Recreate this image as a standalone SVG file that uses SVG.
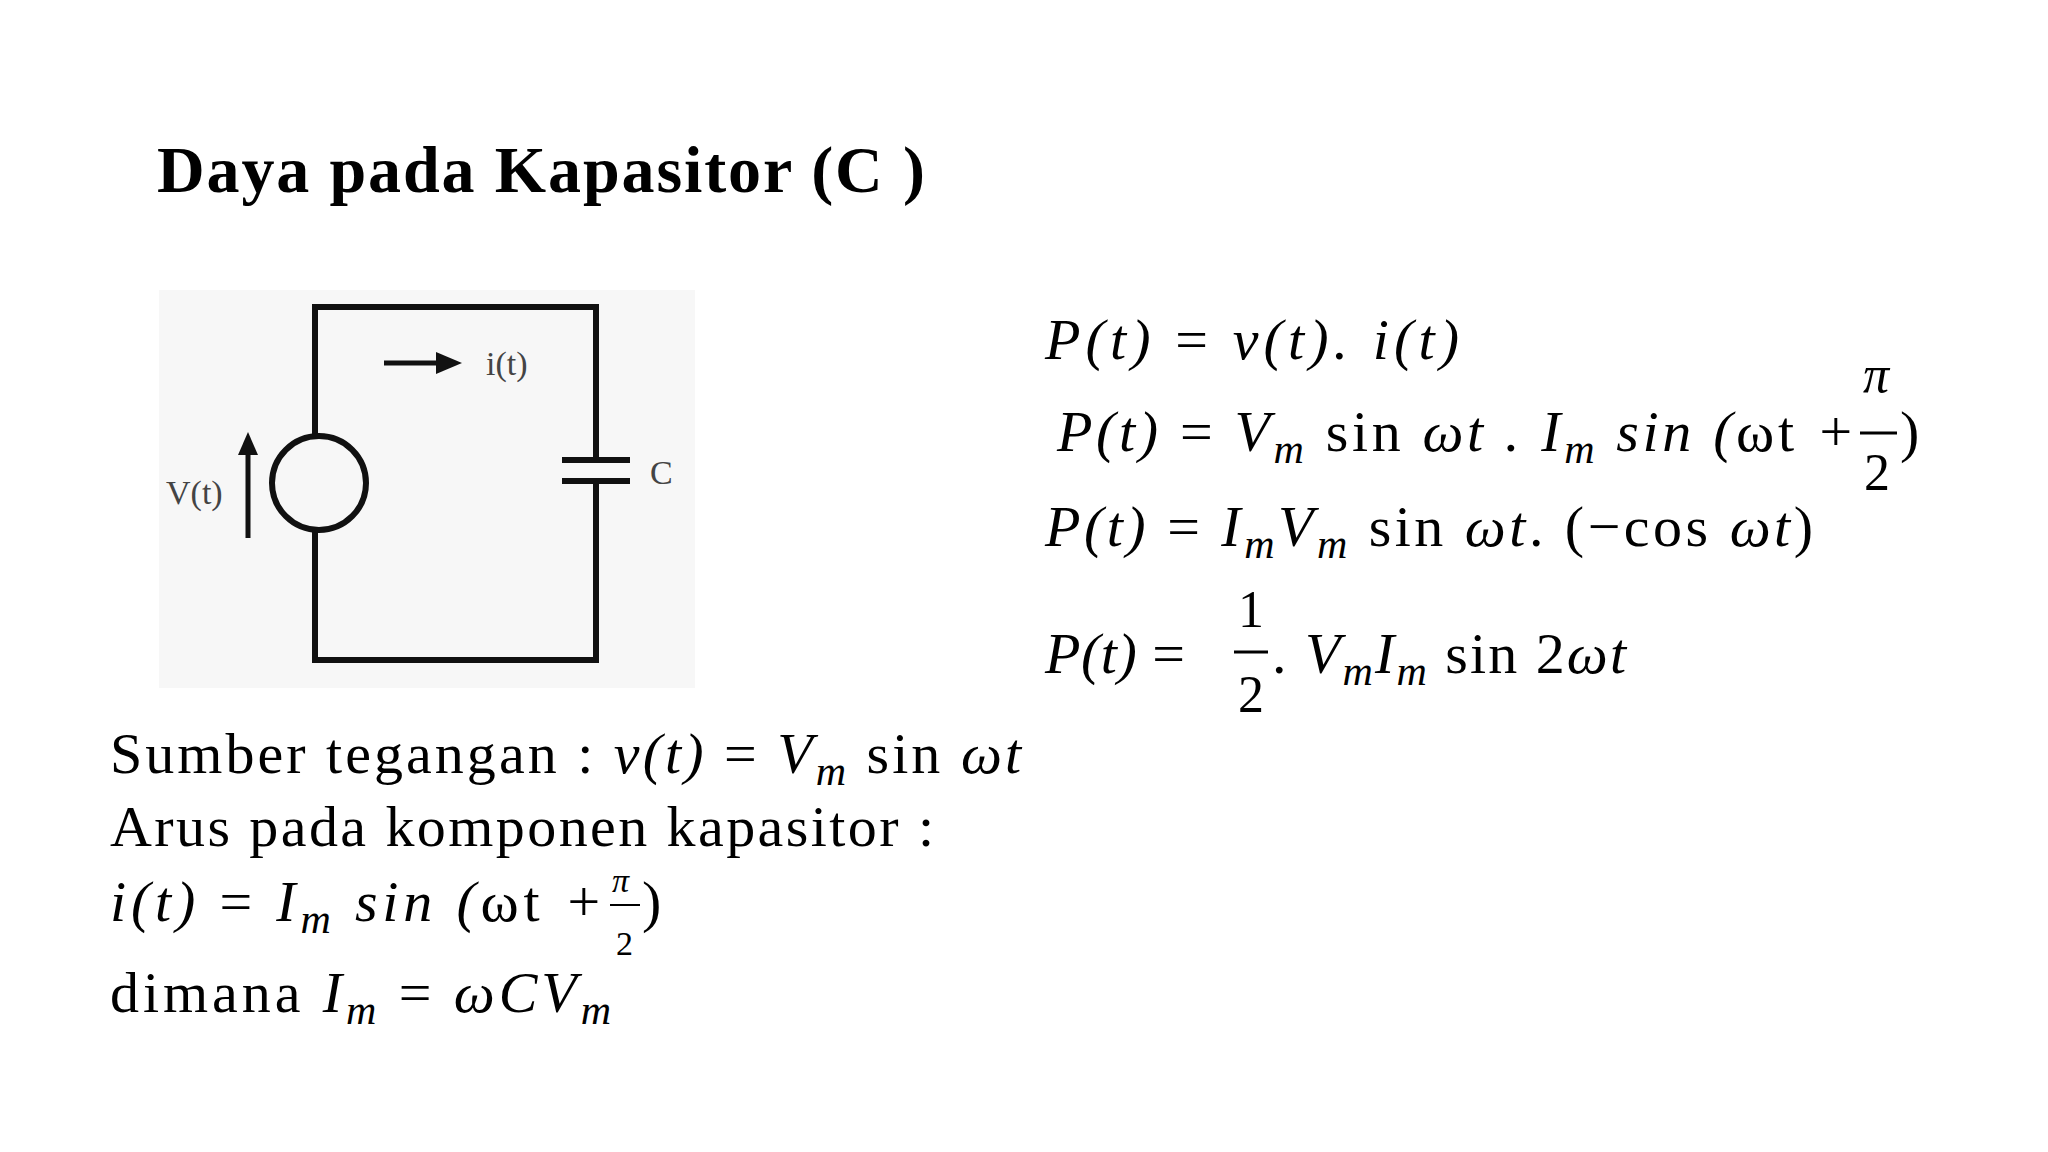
<svg xmlns="http://www.w3.org/2000/svg" width="2048" height="1152" viewBox="0 0 2048 1152">
<style>
.t{font-family:"Liberation Serif",serif;fill:#000}
.m{font-family:"Liberation Serif",serif;font-style:italic;fill:#000}
.w{stroke:#111;stroke-width:6;fill:none}
.s{font-family:"Liberation Serif",serif;fill:#444}
</style>
<rect width="2048" height="1152" fill="#fff"/>
<text class="t" x="157" y="192" font-size="66" font-weight="bold" textLength="768" lengthAdjust="spacing">Daya pada Kapasitor (C )</text>
<g id="circuit">
<rect x="159" y="290" width="536" height="398" fill="#f7f7f7"/>
<path class="w" d="M315 435 V307 H596 V460 M596 481 V660 H315 V531"/>
<circle class="w" cx="319" cy="483" r="47"/>
<path class="w" d="M562 460 H630 M562 481 H630"/>
<path d="M248 538 V450" stroke="#111" stroke-width="5"/>
<polygon points="248,432 238,455 258,455" fill="#111"/>
<path d="M384 363 H440" stroke="#111" stroke-width="5"/>
<polygon points="462,363 436,352 436,374" fill="#111"/>
<text class="s" x="486" y="375" font-size="34">i(t)</text>
<text class="s" x="650" y="484" font-size="34">C</text>
<text class="s" x="166" y="504" font-size="34">V(t)</text>
</g>
<g id="equations" font-size="58">
<text class="m" x="1045" y="359" textLength="414" lengthAdjust="spacing">P(t) <tspan font-style="normal">=</tspan> v(t). i(t)</text>
<text class="m" x="1057" y="451" textLength="798" lengthAdjust="spacing">P(t) <tspan font-style="normal">=</tspan> V<tspan font-size="42" dy="12">m</tspan><tspan dy="-12" font-style="normal"> sin </tspan>ωt .  I<tspan font-size="42" dy="12">m</tspan><tspan dy="-12"> sin (</tspan><tspan font-style="normal">ωt</tspan> +</text>
<text class="m" x="1863" y="392" font-size="52">π</text>
<line x1="1860" y1="433" x2="1897" y2="433" stroke="#000" stroke-width="3"/>
<text class="t" x="1864" y="490" font-size="52">2</text>
<text class="t" x="1900" y="451">)</text>
<text class="m" x="1045" y="546" textLength="768" lengthAdjust="spacing">P(t) <tspan font-style="normal">=</tspan> I<tspan font-size="42" dy="12">m</tspan><tspan dy="-12">V</tspan><tspan font-size="42" dy="12">m</tspan><tspan dy="-12" font-style="normal"> sin </tspan>ωt<tspan font-style="normal">. (−cos </tspan>ωt<tspan font-style="normal">)</tspan></text>
<text class="m" x="1045" y="673" textLength="140" lengthAdjust="spacing">P(t) <tspan font-style="normal">=</tspan></text>
<text class="t" x="1238" y="627" font-size="52">1</text>
<line x1="1234" y1="652" x2="1268" y2="652" stroke="#000" stroke-width="3"/>
<text class="t" x="1238" y="712" font-size="52">2</text>
<text class="m" x="1272" y="673" textLength="354" lengthAdjust="spacing"><tspan font-style="normal">.</tspan> V<tspan font-size="42" dy="12">m</tspan><tspan dy="-12">I</tspan><tspan font-size="42" dy="12">m</tspan><tspan dy="-12" font-style="normal"> sin 2</tspan>ωt</text>
</g>
<g id="text" font-size="58">
<text class="t" x="110" y="773" textLength="911" lengthAdjust="spacing">Sumber tegangan : <tspan font-style="italic">v(t)</tspan> =  <tspan font-style="italic">V</tspan><tspan font-style="italic" font-size="42" dy="12">m</tspan><tspan dy="-12"> sin </tspan><tspan font-style="italic">ωt</tspan></text>
<text class="t" x="110" y="846" textLength="824" lengthAdjust="spacing">Arus pada komponen kapasitor :</text>
<text class="m" x="110" y="921" textLength="493" lengthAdjust="spacing">i(t) <tspan font-style="normal">=</tspan> I<tspan font-size="42" dy="12">m</tspan><tspan dy="-12"> sin (</tspan><tspan font-style="normal">ωt</tspan> +</text>
<text class="m" x="612" y="892" font-size="34">π</text>
<line x1="610" y1="905" x2="640" y2="905" stroke="#000" stroke-width="2"/>
<text class="t" x="616" y="955" font-size="34">2</text>
<text class="t" x="642" y="921">)</text>
<text class="t" x="110" y="1012" textLength="501" lengthAdjust="spacing">dimana  <tspan font-style="italic">I</tspan><tspan font-style="italic" font-size="42" dy="12">m</tspan><tspan dy="-12"> = </tspan><tspan font-style="italic">ωCV</tspan><tspan font-style="italic" font-size="42" dy="12">m</tspan></text>
</g>
</svg>
